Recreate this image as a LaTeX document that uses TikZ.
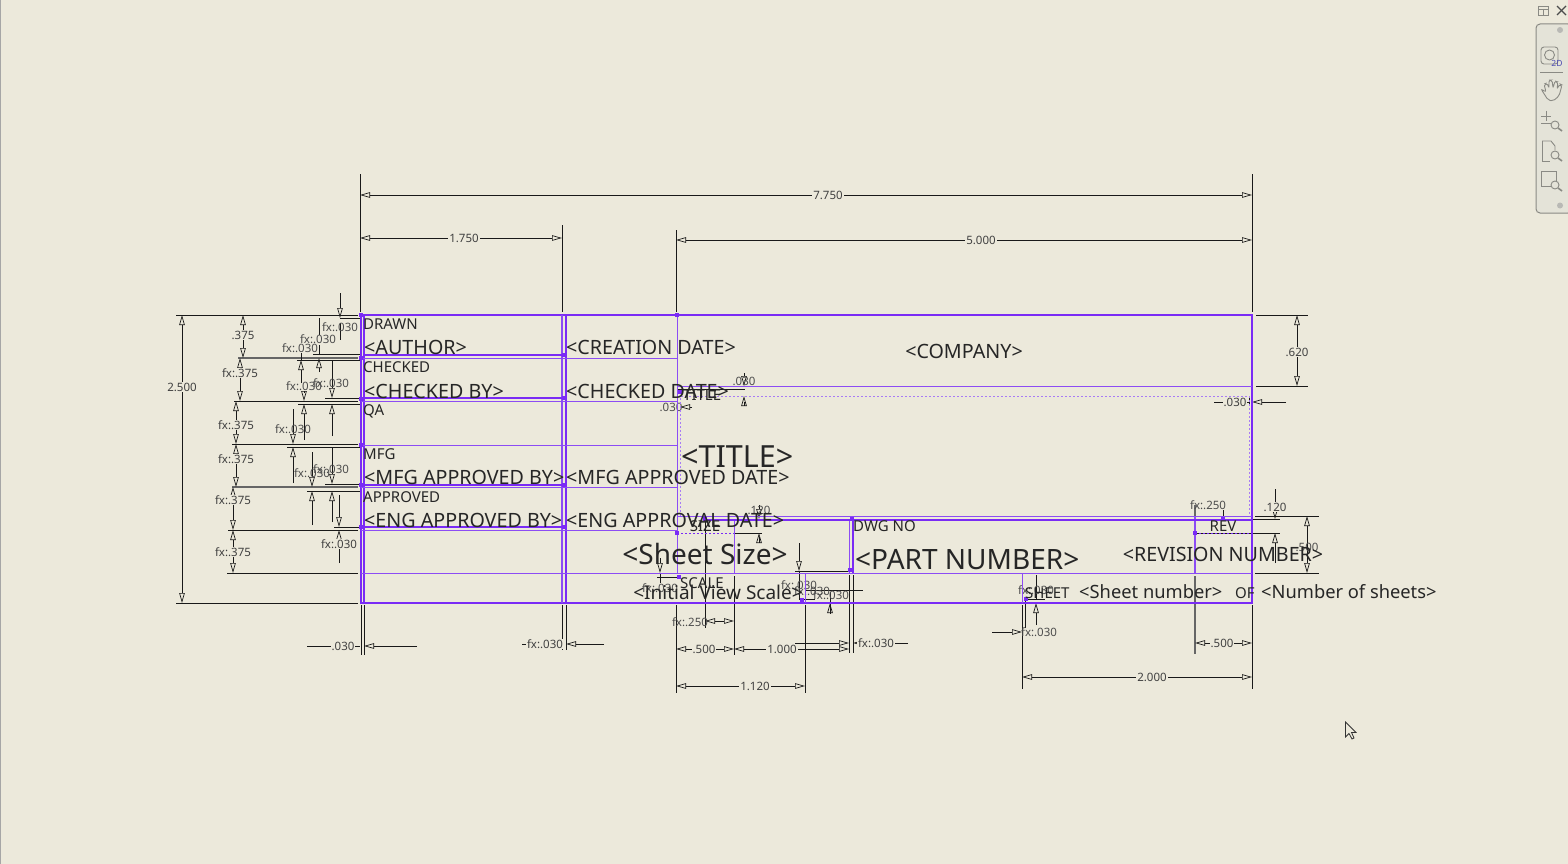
\documentclass[tikz,border=0pt]{standalone}
\usepackage{fontspec}
\setmainfont{Noto Sans}
\usetikzlibrary{arrows.meta}
\definecolor{paper}{HTML}{ECE9DB}
\definecolor{sketch}{HTML}{7A2BF5}
\definecolor{sketchthin}{HTML}{8C4CF4}
\definecolor{sketchdot}{HTML}{A87CF4}
\definecolor{panel}{HTML}{E4E3D8}
\definecolor{icon}{HTML}{8A8A84}
\tikzset{
	dimline/.style={line width=0.7pt, color=black!90, >={Triangle[open,length=10pt,width=5.5pt,line width=0.7pt]}},
	extline/.style={line width=0.8pt, color=black!90},
	extgray/.style={line width=1.3pt, color=black!60},
	dimtext/.style={text=black!75, font=\fontsize{11.5}{12}\selectfont, inner sep=1pt, fill=paper},
	dimover/.style={text=black!70, font=\fontsize{11.5}{12}\selectfont, inner sep=0pt},
	thick sketch/.style={line width=2pt, color=sketch},
	thin sketch/.style={line width=1pt, color=sketchthin},
	dash sketch/.style={line width=1pt, color=sketch, dash pattern=on 2pt off 2pt},
	dot sketch/.style={line width=1.4pt, color=sketchdot, dash pattern=on 2pt off 2pt},
	grip/.style={fill=sketch, draw=none},
	smalltext/.style={text=black!85, font=\fontsize{15}{15}\selectfont, inner sep=0pt},
	fieldtext/.style={text=black!85, font=\fontsize{19.7}{20}\selectfont, inner sep=0pt},
	lowtext/.style={text=black!85, font=\fontsize{18.3}{19}\selectfont, inner sep=0pt},
	bigtext/.style={text=black!85, font=\fontsize{28}{28}\selectfont, inner sep=0pt},
	iconline/.style={line width=0.9pt, color=icon}
}
\def\grips(#1,#2){\fill[grip] (#1-2,#2-2) rectangle (#1+2,#2+2);}
\begin{document}
\begin{tikzpicture}[x=1pt,y=-1pt]
	%%%%% SHEET %%%%%
	\useasboundingbox (0,0) rectangle (1568,864);
	\fill[paper] (0,0) rectangle (1568,864);
	\draw[color=black!35, line width=1pt] (0.5,0) -- (0.5,864);

	%%%%% EXTENSION LINES %%%%%
	\draw[extline] (360,174) -- (360,312);
	\draw[extline] (1252,174) -- (1252,312);
	\draw[extline] (562,225) -- (562,312);
	\draw[extline] (676,230) -- (676,312);
	\draw[extline] (176,315) -- (358,315);
	\draw[extline] (176,603) -- (358,603);
	\draw[extgray] (238,358) -- (358,358);
	\draw[extline] (234,401) -- (358,401);
	\draw[extline] (232,444) -- (358,444);
	\draw[extgray] (232,487) -- (358,487);
	\draw[extline] (228,530) -- (358,530);
	\draw[extline] (227,573) -- (358,573);
	\draw[extline] (1256,315) -- (1308,315);
	\draw[extline] (1256,386) -- (1308,386);
	\draw[extline] (1255,516) -- (1319,516);
	\draw[extline] (1255,573) -- (1319,573);
	\draw[extline] (361,605) -- (361,655);
	\draw[extline] (364,605) -- (364,655);
	\draw[extline] (562,605) -- (562,650);
	\draw[extline] (566,605) -- (566,650);
	\draw[extline] (676,605) -- (676,693);
	\draw[extline] (734,576) -- (734,655);
	\draw[extline] (705,521) -- (705,628);
	\draw[extline] (805,605) -- (805,693);
	\draw[extline] (849,575) -- (849,653);
	\draw[extline] (853,575) -- (853,653);
	\draw[extline] (1022,605) -- (1022,689);
	\draw[extline] (1252,605) -- (1252,689);
	\draw[extgray] (1195,576) -- (1195,654);

	%%%%% DIMENSIONS %%%%%
	\draw[dimline,<->] (360,195) -- (1252,195);
	\node[dimtext] (top775) at (828,195) {7.750};
	\draw[dimline,<->] (360,238) -- (562,238);
	\node[dimtext] (top175) at (464,238) {1.750};
	\draw[dimline,<->] (676,240) -- (1252,240);
	\node[dimtext] (top500) at (981,240) {5.000};

	\draw[dimline,<->] (182,315) -- (182,603);
	\node[dimtext] (left250) at (182,387) {2.500};
	\draw[dimline,<->] (243,315) -- (243,358);
	\node[dimtext] (rowa) at (243,335) {.375};
	\draw[dimline,<->] (240,358) -- (240,401);
	\node[dimtext] (rowb) at (240,373) {fx:.375};
	\draw[dimline,<->] (236,401) -- (236,444);
	\node[dimtext] (rowc) at (236,425) {fx:.375};
	\draw[dimline,<->] (236,444) -- (236,487);
	\node[dimtext] (rowd) at (236,459) {fx:.375};
	\draw[dimline,<->] (233,487) -- (233,530);
	\node[dimtext] (rowe) at (233,500) {fx:.375};
	\draw[dimline,<->] (233,530) -- (233,573);
	\node[dimtext] (rowf) at (233,552) {fx:.375};

	\draw[extline] (340,318) -- (361,318);
	\draw[dimline,->] (340,293) -- (340,318);
	\draw[extline] (340,323) -- (340,340);
	\node[dimover] (gapa) at (340,327) {fx:.030};

	\draw[extline] (313,354) -- (361,354);
	\draw[extline] (319,318) -- (319,335);
	\draw[dimline,->] (319,372) -- (319,358);
	\draw[extline] (319,345) -- (319,354);
	\node[dimover] (gapb) at (318,339) {fx:.030};

	\draw[extline] (297,360) -- (361,360);
	\draw[dimline,->] (301,383) -- (301,360);
	\draw[extline] (301,353) -- (301,360);
	\node[dimover] (gapc) at (300,348) {fx:.030};

	\draw[extline] (298,404) -- (361,404);
	\draw[dimline,->] (304,440) -- (304,404);
	\draw[dimline,->] (304,393) -- (304,401);
	\node[dimover] (gapd) at (304,386) {fx:.030};

	\draw[extline] (325,398) -- (361,398);
	\draw[dimline,->] (332,361) -- (332,398);
	\draw[dimline,->] (332,436) -- (332,404);
	\node[dimover] (gape) at (331,383) {fx:.030};

	\draw[extline] (287,447) -- (361,447);
	\draw[dimline,->] (293,409) -- (293,444);
	\draw[dimline,->] (293,483) -- (293,447);
	\node[dimover] (gapf) at (293,429) {fx:.030};

	\draw[extline] (307,491) -- (361,491);
	\draw[dimline,->] (312,452) -- (312,487);
	\draw[dimline,->] (312,525) -- (312,491);
	\node[dimover] (gapg) at (312,473) {fx:.030};

	\draw[extline] (325,484) -- (361,484);
	\draw[dimline,->] (332,447) -- (332,484);
	\draw[dimline,->] (332,522) -- (332,491);
	\node[dimover] (gaph) at (331,469) {fx:.030};

	\draw[extline] (334,527) -- (361,527);
	\draw[dimline,->] (339,495) -- (339,527);
	\draw[dimline,->] (339,563) -- (339,530);
	\node[dimtext] (gapi) at (339,544) {fx:.030};

	\draw[extline] (307,646) -- (360,646);
	\draw[dimline,->] (417,646) -- (364,646);
	\node[dimtext] (botb) at (343,646) {.030};
	\draw[extline] (522,644) -- (562,644);
	\draw[dimline,->] (604,644) -- (566,644);
	\node[dimtext] (botc) at (545,644) {fx:.030};

	\draw[dimline,<->] (705,621) -- (734,621);
	\node[dimover] (sizew) at (690,622) {fx:.250};
	\draw[dimline,<->] (676,649) -- (734,649);
	\node[dimtext] (size500) at (704,649) {.500};
	\draw[dimline,<->] (734,649) -- (849,649);
	\node[dimtext] (size100) at (782,649) {1.000};
	\draw[dimline,<->] (676,686) -- (805,686);
	\node[dimtext] (scale112) at (755,686) {1.120};
	\draw[dimline,<->] (1022,677) -- (1252,677);
	\node[dimtext] (sheet200) at (1152,677) {2.000};
	\draw[dimline,<->] (1195,643) -- (1252,643);
	\node[dimtext] (rev500) at (1222,643) {.500};

	\draw[dimline,->] (795,643) -- (849,643);
	\draw[dimline,->] (908,643) -- (853,643);
	\node[dimtext] (partgap) at (876,643) {fx:.030};
	\draw[dimline,->] (992,632) -- (1022,632);
	\draw[extline] (1025,599) -- (1025,628);
	\node[dimover] (sheetgap) at (1039,632) {fx:.030};
	\draw[extline] (1025,599) -- (1045,599);
	\draw[extline] (1036,575) -- (1036,599);
	\draw[dimline,->] (1036,625) -- (1036,603);
	\node[dimover] (sheetgapb) at (1036,590) {fx:.030};

	\draw[dimline,<->] (1297,315) -- (1297,386);
	\node[dimtext] (right620) at (1297,352) {.620};
	\draw[extline] (1214,402) -- (1249,402);
	\draw[dimline,->] (1286,402) -- (1252,402);
	\node[dimtext] (right030) at (1235,402) {.030};
	\draw[extline] (1249,398) -- (1249,406);
	\draw[extline] (1223,510) -- (1223,519);
	\draw[extline] (1223,519) -- (1280,519);
	\draw[extline] (1195,533) -- (1280,533);
	\draw[dimline,->] (1275,489) -- (1275,519);
	\draw[dimline,->] (1275,563) -- (1275,533);
	\node[dimtext] (right120) at (1275,507) {.120};
	\draw[dimline,<->] (1307,516) -- (1307,573);
	\node[dimover] (right500) at (1307,547) {.500};
	\draw[extgray] (1195,505) -- (1195,516);
	\node[dimover] (revgap) at (1208,505) {fx:.250};

	\draw[extline] (677,389) -- (745,389);
	\draw[dimline,->] (744,373) -- (744,386);
	\draw[dimline,->] (744,402) -- (744,396);
	\node[dimover] (titlea) at (744,381) {.030};
	\draw[dimline,->] (692,407) -- (680,407);
	\node[dimover] (titleb) at (671,407) {.030};

	\draw[extline] (734,533) -- (762,533);
	\draw[dimline,->] (759,505) -- (759,519);
	\draw[dimline,->] (759,537) -- (759,533);
	\node[dimover] (sizeh) at (759,510) {.120};

	\draw[extline] (657,577) -- (680,577);
	\draw[dimline,->] (660,558) -- (660,573);
	\draw[extline] (660,573) -- (660,583);
	\node[dimover] (scalegap) at (660,588) {fx:.030};

	\draw[extline] (795,571) -- (851,571);
	\draw[extline] (800,599) -- (815,599);
	\draw[dimline,->] (799,543) -- (799,571);
	\draw[extline] (799,571) -- (799,600);
	\node[dimover] (scaleb) at (799,585) {fx:.030};
	\draw[extline] (805,590) -- (863,590);
	\node[dimover] (scalec) at (812,591) {fx:.030};
	\draw[extline] (830,592) -- (830,613);
	\draw[dimline,->] (830,613) -- (830,603);
	\node[dimover] (scaled) at (831,595) {fx:.030};

	%%%%% TITLE BLOCK %%%%%
	\draw[thick sketch] (361,315) rectangle (1252,603);
	\draw[thick sketch] (364,315) -- (364,603);
	\draw[line width=1.3pt, color=sketchthin] (562,315) -- (562,603);
	\draw[thick sketch] (565.5,315) -- (565.5,603);
	\draw[thick sketch] (364,355) -- (565,355);
	\draw[thick sketch] (364,398) -- (565,398);
	\draw[thick sketch] (364,485) -- (565,485);
	\draw[thick sketch] (364,527) -- (565,527);

	\draw[thin sketch] (361,358.5) -- (677,358.5);
	\draw[thin sketch] (361,401.5) -- (677,401.5);
	\draw[thin sketch] (361,445.5) -- (677,445.5);
	\draw[thin sketch] (361,487.5) -- (677,487.5);
	\draw[thin sketch] (361,530.5) -- (677,530.5);
	\draw[thin sketch] (361,573.5) -- (1252,573.5);
	\draw[thin sketch] (677.5,315) -- (677.5,573);
	\draw[thin sketch] (677,386.5) -- (1252,386.5);
	\draw[thin sketch] (677,516.5) -- (1252,516.5);
	\draw[thin sketch] (734.5,519) -- (734.5,573);
	\draw[thin sketch] (849.5,519) -- (849.5,573);
	\draw[thin sketch] (805.5,573) -- (805.5,603);
	\draw[thin sketch] (1022.5,573) -- (1022.5,603);
	\draw[line width=1.3pt, color=sketchthin] (1195,516) -- (1195,573);

	\draw[thick sketch] (705,519.5) -- (1252,519.5);
	\draw[thick sketch] (853,519) -- (853,573);

	\draw[dot sketch] (680.5,516) -- (680.5,396.5) -- (1249.5,396.5) -- (1249.5,516);
	\draw[dash sketch] (677,533.5) -- (734,533.5);
	\draw[dash sketch] (1195,533.5) -- (1252,533.5);

	\grips(361,315) \grips(677,315) \grips(564,355) \grips(361,358) \grips(564,398)
	\grips(361,399) \grips(361,445) \grips(361,485) \grips(564,485) \grips(361,527)
	\grips(564,527) \grips(680,392) \grips(677,533) \grips(705,519) \grips(852,519)
	\grips(850,570) \grips(679,577) \grips(802,600) \grips(1026,599) \grips(1195,533)
	\grips(1223,519)

	%%%%% TEXTS %%%%%
	\node[smalltext, anchor=west] (drawn) at (363,324) {DRAWN};
	\node[fieldtext, anchor=west] (author) at (364,347.5) {<AUTHOR>};
	\node[smalltext, anchor=west] (checked) at (363,367.5) {CHECKED};
	\node[fieldtext, anchor=west] (checkedby) at (364,391) {<CHECKED BY>};
	\node[smalltext, anchor=west] (qa) at (363,411) {QA};
	\node[smalltext, anchor=west] (mfg) at (363,454) {MFG};
	\node[fieldtext, anchor=west] (mfgby) at (364,477.5) {<MFG APPROVED BY>};
	\node[smalltext, anchor=west] (approved) at (363,497) {APPROVED};
	\node[fieldtext, anchor=west] (engby) at (364,520.5) {<ENG APPROVED BY>};

	\node[fieldtext, anchor=west] (created) at (566,347.5) {<CREATION DATE>};
	\node[fieldtext, anchor=west] (checkdate) at (566,391) {<CHECKED DATE>};
	\node[fieldtext, anchor=west] (mfgdate) at (566,477.5) {<MFG APPROVED DATE>};
	\node[fieldtext, anchor=west] (engdate) at (566,520.5) {<ENG APPROVAL DATE>};

	\node[fieldtext] (company) at (964,351) {<COMPANY>};
	\node[smalltext, anchor=west] (titlelab) at (683,395) {TITLE};
	\node[bigtext, font=\fontsize{30.5}{31}\selectfont, anchor=west] (title) at (681,457) {<TITLE>};

	\node[smalltext] (sizelab) at (705,526) {SIZE};
	\node[bigtext] (sheetsize) at (705,554) {<Sheet Size>};
	\node[smalltext, anchor=west] (scalelab) at (680,583.5) {SCALE};
	\node[lowtext, font=\fontsize{19}{19}\selectfont] (viewscale) at (718,592) {<Initial View Scale>};
	\node[smalltext, anchor=west] (dwgno) at (853,526) {DWG NO};
	\node[bigtext, anchor=west] (partno) at (855,559.5) {<PART NUMBER>};
	\node[smalltext] (revlab) at (1223,526) {REV};
	\node[fieldtext] (revno) at (1223,554.5) {<REVISION NUMBER>};
	\node[smalltext, anchor=west] (sheetlab) at (1025,593) {SHEET};
	\node[lowtext, anchor=west] (sheetno) at (1079,592) {<Sheet number>};
	\node[smalltext, anchor=west] (oflab) at (1235,593) {OF};
	\node[lowtext, anchor=west] (sheets) at (1261,592) {<Number of sheets>};

	%%%%% NAVIGATION PANEL %%%%%
	\draw[iconline] (1538,6) rectangle (1548,15);
	\draw[iconline] (1538,9) -- (1548,9);
	\draw[iconline] (1543,9) -- (1543,15);
	\draw[line width=1.3pt, color=black!70] (1557,6) -- (1566,15);
	\draw[line width=1.3pt, color=black!70] (1566,6) -- (1557,15);

	\draw[line width=1pt, color=icon, fill=panel, rounded corners=4pt] (1536,24) rectangle (1572,213);
	\fill[color=icon!60] (1560,30) circle (3);
	\fill[color=icon!60] (1560,205.5) circle (3);
	\draw[iconline, rounded corners=3pt] (1541,47) rectangle (1558,64);
	\draw[iconline] (1549.5,55) circle (5);
	\node[text=blue!40!gray, font=\bfseries\fontsize{8.5}{9}\selectfont, inner sep=0pt] (twod) at (1557,63) {2D};
	\draw[iconline] (1540,72) -- (1563,72);
	\draw[iconline, rounded corners=2pt] (1541,89) -- (1546,92) -- (1544,84) -- (1547,83) -- (1549,88) -- (1549,80) -- (1552,80) -- (1553,88) -- (1555,81) -- (1558,82) -- (1557,89) -- (1560,84) -- (1562,85) -- (1559,96) -- (1553,101) -- (1548,100) -- cycle;
	\draw[iconline] (1541,116) -- (1551,116);
	\draw[iconline] (1546,111) -- (1546,121);
	\draw[iconline] (1541,123) -- (1551,123);
	\draw[iconline] (1555,125) circle (4);
	\draw[line width=1.6pt, color=icon] (1558,128) -- (1562,131);
	\draw[iconline] (1542,141) -- (1551,141) -- (1555,146) -- (1555,150);
	\draw[iconline] (1542,141) -- (1542,161) -- (1550,161);
	\draw[iconline] (1555,155) circle (4);
	\draw[line width=1.6pt, color=icon] (1558,158) -- (1562,161);
	\draw[iconline] (1541,171) rectangle (1556,186);
	\draw[iconline, fill=panel] (1555,185) circle (4);
	\draw[line width=1.6pt, color=icon] (1558,188) -- (1562,191);

	%%%%% CURSOR %%%%%
	\draw[line width=0.8pt, color=black!80, fill=paper] (1345.5,722) -- (1345.5,737) -- (1349,733.5) -- (1352,739) -- (1354,738) -- (1351.5,732.5) -- (1356,732.5) -- cycle;
\end{tikzpicture}
\end{document}
